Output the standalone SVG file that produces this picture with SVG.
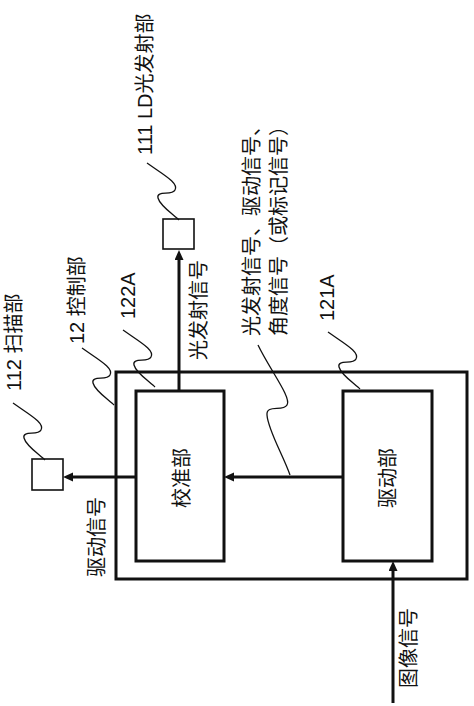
<svg xmlns="http://www.w3.org/2000/svg" width="474" height="706" viewBox="0 0 474 706">
<style>
.t{font-family:"Liberation Sans","Noto Sans CJK SC",sans-serif;font-size:20px;fill:#111;dominant-baseline:central}
.box{fill:#fff;stroke:#111;stroke-width:3}
.sm{fill:#fff;stroke:#111;stroke-width:1.6}
.ar{stroke:#111;stroke-width:3;fill:none}
.ld{stroke:#111;stroke-width:1.3;fill:none}
</style>
<defs>
<marker id="ah" markerUnits="userSpaceOnUse" markerWidth="10" markerHeight="10" refX="2" refY="4.5" orient="auto">
<path d="M0,0 L10,4.5 L0,9 z" fill="#111"/>
</marker>
<path id="lead" d="M0,0 C17,12 32,20 28,27 C25,33 9,27 11,35 C13,43 27,52 32,57"/>
</defs>
<rect width="474" height="706" fill="#fff"/>

<g id="control">
<rect class="box" x="116" y="372" width="351" height="207"/>
<text class="t" transform="translate(77,344) rotate(-90)">12 控制部</text>
</g>

<g id="ld-emitter">
<rect class="sm" x="163" y="219" width="31" height="30"/>
<text class="t" transform="translate(145,155) rotate(-90)">111 LD光发射部</text>
</g>

<g id="scanner">
<rect class="sm" x="32" y="459" width="31" height="31"/>
<text class="t" transform="translate(14,391) rotate(-90)">112 扫描部</text>
</g>

<g id="calibration">
<rect class="box" x="136" y="391" width="88" height="170"/>
<text class="t" text-anchor="middle" transform="translate(182,478) rotate(-90)">校准部</text>
<text class="t" transform="translate(128,319) rotate(-90)">122A</text>
</g>

<g id="driver">
<rect class="box" x="343" y="391" width="89" height="170"/>
<text class="t" text-anchor="middle" transform="translate(388,478) rotate(-90)">驱动部</text>
<text class="t" transform="translate(327,321) rotate(-90)">121A</text>
</g>

<g id="connectors">
<line class="ar" x1="179" y1="391" x2="179" y2="258" marker-end="url(#ah)"/>
<line class="ar" x1="136" y1="477" x2="71" y2="477" marker-end="url(#ah)"/>
<line class="ar" x1="343" y1="477" x2="232" y2="477" marker-end="url(#ah)"/>
<line class="ar" x1="393" y1="703" x2="393" y2="569" marker-end="url(#ah)"/>
<text class="t" transform="translate(199,360) rotate(-90)">光发射信号</text>
<text class="t" transform="translate(97,577) rotate(-90)">驱动信号</text>
<text class="t" transform="translate(252,336) rotate(-90)">光发射信号、驱动信号、</text>
<text class="t" transform="translate(279,336) rotate(-90)">角度信号（或标记信号）</text>
<text class="t" transform="translate(409,688) rotate(-90)">图像信号</text>
</g>

<g id="leaders">
<use href="#lead" class="ld" transform="translate(147,163)"/>
<use href="#lead" class="ld" transform="translate(13,403)"/>
<use href="#lead" class="ld" transform="translate(82,348)"/>
<use href="#lead" class="ld" transform="translate(123,330)"/>
<use href="#lead" class="ld" transform="translate(328,332)"/>
<path class="ld" d="M258,345 C270,370 292,398 287,405 C283,412 266,404 267,415 C268,430 283,455 290,475"/>
</g>
</svg>
